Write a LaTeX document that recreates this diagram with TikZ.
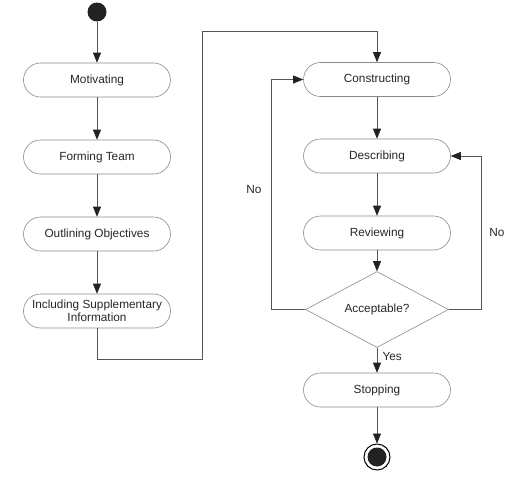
\documentclass[tikz,border=0pt]{standalone}
\usepackage{fontspec}
\setmainfont{Liberation Sans}
\usetikzlibrary{shapes.geometric,arrows.meta}
\definecolor{boxline}{HTML}{8A8A8A}
\definecolor{conline}{HTML}{555555}
\definecolor{tipfill}{HTML}{222222}
\begin{document}
\begin{tikzpicture}[x=1pt,y=-1pt,
  activity/.style={draw=boxline,line width=0.6pt,rounded corners=17pt,minimum width=147pt,minimum height=34pt,inner sep=1pt,align=center,font=\fontsize{11.8}{13}\selectfont,text=black!85},
  decision/.style={draw=boxline,line width=0.6pt,diamond,minimum width=143pt,minimum height=41pt,inner sep=0pt,font=\fontsize{11.8}{13}\selectfont,text=black!85},
  flow/.style={draw=conline,line width=0.6pt,-{Triangle[length=10pt,width=8pt,fill=tipfill,color=tipfill]}},
  lbl/.style={font=\fontsize{11.8}{13}\selectfont,text=black!85}]
\useasboundingbox (0,0) rectangle (529,480);
% start
\node[circle,fill=tipfill,minimum size=19pt,inner sep=0pt] (start) at (97,12) {};
% left column
\node[activity] (m1) at (97,80) {Motivating};
\node[activity] (m2) at (97,157) {Forming Team};
\node[activity] (m3) at (97,234) {Outlining Objectives};
\node[activity] (m4) at (97,311) {Including Supplementary\\Information};
% right column
\node[activity] (c1) at (377,79.5) {Constructing};
\node[activity] (c2) at (377,156) {Describing};
\node[activity] (c3) at (377,233) {Reviewing};
\node[decision] (dia) at (377,309.5) {Acceptable?};
\node[activity] (stop) at (377,390) {Stopping};
\node[circle,draw=black,line width=1pt,minimum size=26pt,inner sep=0pt] (end) at (377,457) {};
\fill[tipfill] (end.center) circle (9.5pt);
% coordinates
\coordinate (p1) at (202,359);
\coordinate (p2) at (202,31);
\coordinate (l1) at (271,309.5);
\coordinate (r1) at (481,309.5);
% connectors
\draw[flow] (start) -- (m1);
\draw[flow] (m1) -- (m2);
\draw[flow] (m2) -- (m3);
\draw[flow] (m3) -- (m4);
\draw[flow] (m4.south) |- (p1) -- (p2) -| (c1.north);
\draw[flow] (c1) -- (c2);
\draw[flow] (c2) -- (c3);
\draw[flow] (c3) -- (dia);
\draw[flow] (dia.west) -- (l1) |- (c1.west);
\draw[flow] (dia.east) -- (r1) |- (c2.east);
\draw[flow] (dia.south) -- node[lbl,right=2pt,pos=0.35] {Yes} (stop);
\draw[flow] (stop) -- (end);
% labels
\node[lbl] (no1) at (254,189) {No};
\node[lbl] (no2) at (497,232) {No};
\end{tikzpicture}
\end{document}
